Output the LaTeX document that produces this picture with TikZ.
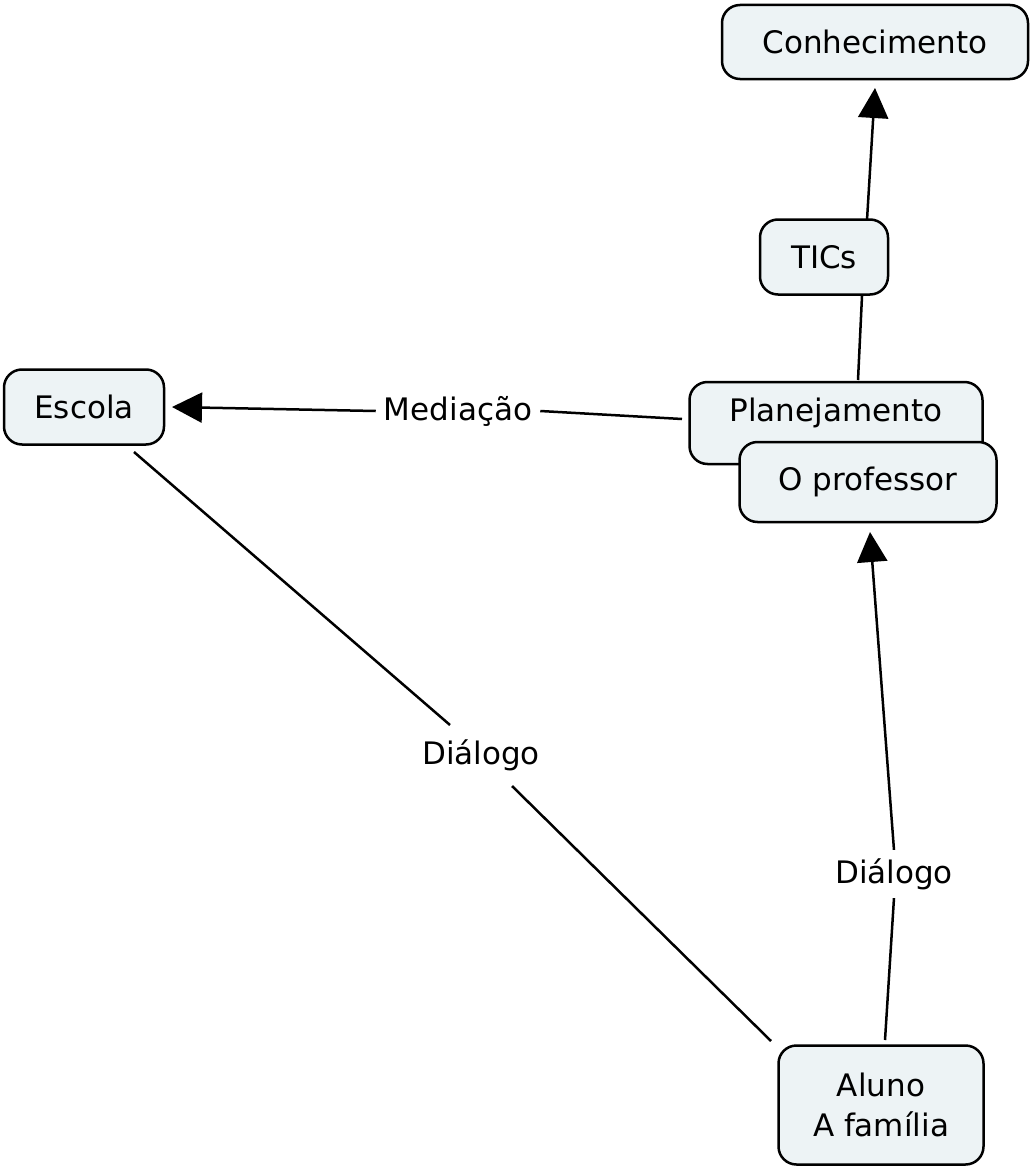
\documentclass[tikz,border=0pt]{standalone}
\usepackage{fontspec}
\setmainfont{DejaVu Sans}
\usetikzlibrary{arrows.meta,backgrounds}
\definecolor{boxfill}{HTML}{EDF3F5}
\tikzset{
  box/.style={draw=black,line width=2.5pt,fill=boxfill,rounded corners=18pt,align=center,inner sep=0pt,font=\fontsize{31}{40}\selectfont},
  lbl/.style={font=\fontsize{31}{40}\selectfont,inner sep=8pt,fill=white},
  conn/.style={line width=2.5pt},
  arr/.style={conn,-{Triangle[length=30pt,width=30pt]}}
}
\begin{document}
\begin{tikzpicture}[x=1pt,y=-1pt]
\useasboundingbox (0,0) rectangle (1035,1172);
\node[box,minimum width=306pt,minimum height=74pt] (con) at (875,42) {Conhecimento};
\node[box,minimum width=128pt,minimum height=75pt] (tic) at (824,257) {TICs};
\node[box,minimum width=160pt,minimum height=75pt] (esc) at (84,407) {Escola};
\node[box,minimum width=293pt,minimum height=82pt,text depth=30pt,text height=26pt] (pla) at (836,423) {Planejamento};
\node[box,minimum width=257pt,minimum height=80pt] (pro) at (868,482) {O professor};
\node[box,minimum width=205pt,minimum height=119pt] (alu) at (881,1105) {Aluno\\A família};
\node[lbl] (med) at (458,411) {Mediação};
\node[lbl] (d1) at (481,755) {Diálogo};
\node[lbl] (d2) at (894,874) {Diálogo};
\begin{scope}[on background layer]
\draw[conn] (682,419) -- (med.east);
\draw[arr] (med.west) -- (172,407);
\draw[conn] (858,380) -- (862,296);
\draw[arr] (867,220) -- (875,88);
\draw[conn] (134,452) -- (450,725);
\draw[conn] (512,786) -- (771,1041);
\draw[conn] (885,1040) -- (d2.south);
\draw[arr] (d2.north) -- (870,532);
\end{scope}
\end{tikzpicture}
\end{document}
